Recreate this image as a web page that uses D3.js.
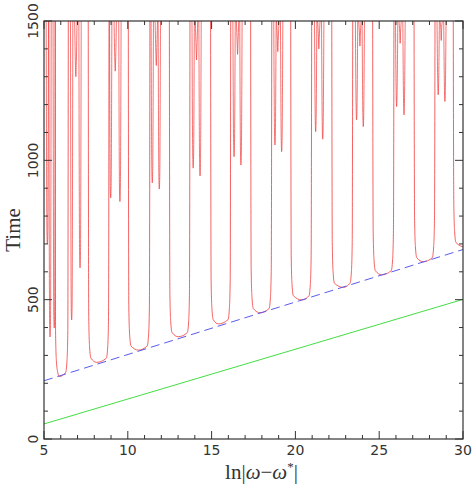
<!DOCTYPE html>
<html><head><meta charset="utf-8">
<script src="https://cdn.jsdelivr.net/npm/d3@7"></script>
<style>body{margin:0;background:#fff}</style></head>
<body><svg id="c" width="474" height="498"></svg>
<script>
// main U-shaped dips
const dipLeft  = [5.66, 7.64, 10.03, 12.48, 14.94, 17.33, 19.72, 22.17, 24.61, 27.08, 29.42];
const dipCenter= [5.91, 8.14, 10.63, 13.01, 15.40, 17.89, 20.38, 22.86, 25.15, 27.63, 30.05];
const dipRight = [6.45, 8.88, 11.32, 13.71, 16.14, 18.59, 20.97, 23.42, 25.88, 28.33, 30.6];
const dipMin   = [224, 275, 319, 367, 413, 453, 499, 544, 589, 636, 690];
// narrow secondary dips hanging from the top
const spikeX   = [5.2, 5.36, 5.61, 6.65, 7.15, 8.98, 9.53, 11.46, 11.88, 13.9, 14.31, 16.34, 16.75,
                  18.78, 19.18, 21.21, 21.63, 23.65, 24.05, 26.04, 26.48, 28.52, 28.92,
                  6.9, 9.25, 11.7, 14.1, 16.55, 18.95, 21.4, 23.85, 26.25, 28.7];
const spikeMin = [700, 366, 398, 427, 614, 865, 852, 919, 897, 972, 944, 1013, 983,
                  1055, 1031, 1103, 1076, 1145, 1121, 1193, 1163, 1235, 1211,
                  1300, 1320, 1340, 1360, 1380, 1390, 1400, 1410, 1420, 1430, 1440];
const blueLine = [[5, 209], [30, 680]];
const greenLine= [[5, 54], [30, 501]];
const xTicks = [5, 10, 15, 20, 25, 30];
const yTicks = [0, 500, 1000, 1500];

const svg = d3.select("#c");
const L = 44, R = 463, T = 21, B = 439;
const x = d3.scaleLinear().domain([5, 30]).range([L, R]);
const y = d3.scaleLinear().domain([0, 1500]).range([B, T]);
const g = svg.append("g");
svg.append("defs").append("clipPath").attr("id","cp").append("rect")
  .attr("x",L).attr("y",T).attr("width",R-L).attr("height",B-T);
const plot = g.append("g").attr("clip-path","url(#cp)");
const line = d3.line().x(d=>x(d[0])).y(d=>y(d[1])).curve(d3.curveMonotoneX);

dipCenter.forEach((c,i)=>{
  const l=dipLeft[i], r=dipRight[i], m=dipMin[i];
  const pts=[[l,1500],[l+0.03,m+160],[l+0.08,m+55],[l+0.16,m+15],[c,m],[r-0.16,m+15],[r-0.08,m+55],[r-0.03,m+160],[r,1500]];
  plot.append("path").attr("d",line(pts)).attr("fill","none").attr("stroke","#f03030").attr("stroke-width",0.9).attr("stroke-opacity",0.85);
});
spikeX.forEach((c,i)=>{
  const m=spikeMin[i];
  const pts=[[c-0.07,1500],[c-0.025,m+40],[c,m],[c+0.025,m+40],[c+0.07,1500]];
  plot.append("path").attr("d",line(pts)).attr("fill","none").attr("stroke","#f03030").attr("stroke-width",0.9).attr("stroke-opacity",0.75);
});
const straight = d3.line().x(d=>x(d[0])).y(d=>y(d[1]));
plot.append("path").attr("d",straight(blueLine)).attr("fill","none").attr("stroke","#5a5aee").attr("stroke-width",1).attr("stroke-dasharray","9,5");
plot.append("path").attr("d",straight(greenLine)).attr("fill","none").attr("stroke","#44dd44").attr("stroke-width",1);

// frame
g.append("rect").attr("x",L).attr("y",T).attr("width",R-L).attr("height",B-T).attr("fill","none").attr("stroke","#333").attr("stroke-width",1.2);
const tk = g.append("g").attr("stroke","#333").attr("stroke-width",1);
d3.range(5,31,1).forEach(v=>{
  const len = v%5===0 ? 8 : 4;
  tk.append("line").attr("x1",x(v)).attr("x2",x(v)).attr("y1",B).attr("y2",B-len);
  tk.append("line").attr("x1",x(v)).attr("x2",x(v)).attr("y1",T).attr("y2",T+len);
});
d3.range(0,1501,100).forEach(v=>{
  const len = v%500===0 ? 8 : 4;
  tk.append("line").attr("y1",y(v)).attr("y2",y(v)).attr("x1",L).attr("x2",L+len);
  tk.append("line").attr("y1",y(v)).attr("y2",y(v)).attr("x1",R).attr("x2",R-len);
});
const font="Liberation Serif, DejaVu Serif, serif";
const tfont="DejaVu Sans, sans-serif";
xTicks.forEach(v=>g.append("text").attr("x",x(v)).attr("y",B+16).attr("text-anchor","middle")
  .attr("font-family",tfont).attr("font-size",14).attr("fill","#333").text(v));
yTicks.forEach(v=>g.append("text").attr("transform",`translate(${L-6},${y(v)}) rotate(-90)`).attr("text-anchor","middle")
  .attr("font-family",tfont).attr("font-size",14).attr("fill","#333").text(v));
g.append("text").attr("transform",`translate(20,${(T+B)/2}) rotate(-90)`).attr("text-anchor","middle")
  .attr("font-family",font).attr("font-size",21).attr("fill","#333").text("Time");
const xl = g.append("text").attr("x",(L+R)/2+8).attr("y",B+40).attr("text-anchor","middle")
  .attr("font-family",font).attr("font-size",21).attr("fill","#333");
xl.append("tspan").text("ln|");
xl.append("tspan").attr("font-style","italic").text("ω");
xl.append("tspan").text("−");
xl.append("tspan").attr("font-style","italic").text("ω");
xl.append("tspan").attr("font-size",13).attr("dy",-8).text("*");
xl.append("tspan").attr("dy",8).text("|");
</script></body></html>
